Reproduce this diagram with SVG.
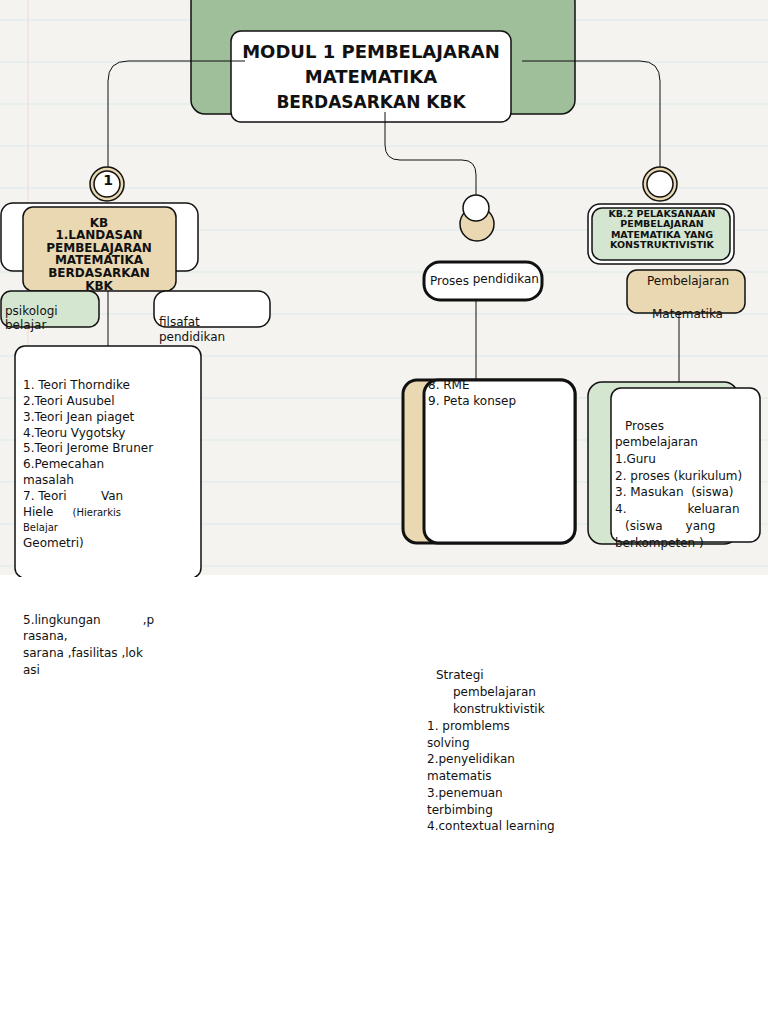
<svg xmlns="http://www.w3.org/2000/svg" width="768" height="1024" viewBox="0 0 768 1024">
<style>
.t{font-family:"DejaVu Sans",sans-serif;font-size:12px;fill:#111;white-space:pre}
.b{font-family:"DejaVu Sans",sans-serif;font-weight:bold;fill:#111;text-anchor:middle}
.l{fill:none;stroke:#111;stroke-width:1}
.k{stroke:#111;stroke-width:1.5}
.kk{stroke:#111;stroke-width:3}
</style>
<rect width="768" height="1024" fill="#fff"/>
<rect width="768" height="575" fill="#f4f3ef"/>
<g stroke="#dbe9ea" stroke-width="1">
<line x1="0" y1="20" x2="768" y2="20"/><line x1="0" y1="62" x2="768" y2="62"/><line x1="0" y1="104" x2="768" y2="104"/><line x1="0" y1="146" x2="768" y2="146"/><line x1="0" y1="188" x2="768" y2="188"/><line x1="0" y1="230" x2="768" y2="230"/><line x1="0" y1="272" x2="768" y2="272"/><line x1="0" y1="314" x2="768" y2="314"/><line x1="0" y1="356" x2="768" y2="356"/><line x1="0" y1="398" x2="768" y2="398"/><line x1="0" y1="440" x2="768" y2="440"/><line x1="0" y1="482" x2="768" y2="482"/><line x1="0" y1="524" x2="768" y2="524"/><line x1="0" y1="566" x2="768" y2="566"/>
</g>
<line x1="28" y1="0" x2="28" y2="575" stroke="#ecd9dc"/>
<g id="title">
<rect x="191" y="-12" width="384" height="126" rx="14" fill="#9fbf9a" class="k"/>
<rect x="231" y="31" width="280" height="91" rx="10" fill="#fff" class="k"/>
<text class="b" font-size="18" x="371" y="58">MODUL 1 PEMBELAJARAN</text>
<text class="b" font-size="18" x="371" y="83">MATEMATIKA</text>
<text class="b" font-size="17" x="371" y="108">BERDASARKAN KBK</text>
</g>
<g id="connectors" class="l">
<path d="M245 61 H128 Q108 61 108 81 V170"/>
<path d="M522 61 H640 Q660 61 660 81 V170"/>
<path d="M385 112 V145 Q385 160 400 160 H462 Q476 160 476 175 V197"/>
<line x1="108" y1="290" x2="108" y2="355"/>
<line x1="476" y1="288" x2="476" y2="380"/>
<line x1="679" y1="312" x2="679" y2="400"/>
</g>
<g id="c1"><circle cx="107" cy="184" r="17" fill="#e9d8b2" class="k"/><circle cx="107" cy="184" r="13" fill="#fff" class="k"/><text class="b" font-size="14" x="108" y="185">1</text></g>
<g id="c3"><circle cx="660" cy="184" r="17" fill="#e9d8b2" class="k"/><circle cx="660" cy="184" r="13" fill="#fff" class="k"/></g>
<g id="c2"><circle cx="477" cy="224" r="17" fill="#e9d8b2" class="k"/><circle cx="476" cy="208" r="13" fill="#fff" class="k"/></g>
<g id="kb1">
<rect x="1" y="203" width="197" height="68" rx="12" fill="#fff" class="k"/>
<rect x="23" y="207" width="153" height="84" rx="10" fill="#e9d8b2" class="k"/>
<text class="b" font-size="12"><tspan x="99" y="227">KB</tspan><tspan x="99" y="239">1.LANDASAN</tspan><tspan x="99" y="252">PEMBELAJARAN</tspan><tspan x="99" y="264">MATEMATIKA</tspan><tspan x="99" y="277">BERDASARKAN</tspan><tspan x="99" y="290">KBK</tspan></text>
</g>
<g id="psi"><rect x="1" y="291" width="98" height="36" rx="10" fill="#d4e6d0" class="k"/><text class="t" x="5" y="315">psikologi</text><text class="t" x="5" y="329">belajar</text></g>
<g id="fil"><rect x="154" y="291" width="116" height="36" rx="12" fill="#fff" class="k"/><text class="t" x="159" y="326">filsafat</text><text class="t" x="159" y="341">pendidikan</text></g>
<g id="teori">
<rect x="15" y="346" width="186" height="232" rx="10" fill="#fff" class="k"/>
<text class="t"><tspan x="23" y="389">1. Teori Thorndike</tspan><tspan x="23" y="405">2.Teori Ausubel</tspan><tspan x="23" y="421">3.Teori Jean piaget</tspan><tspan x="23" y="437">4.Teoru Vygotsky</tspan><tspan x="23" y="452">5.Teori Jerome Bruner</tspan><tspan x="23" y="468">6.Pemecahan</tspan><tspan x="23" y="484">masalah</tspan><tspan x="23" y="500">7. Teori         Van</tspan><tspan x="23" y="516">Hiele     </tspan><tspan font-size="10">(Hierarkis</tspan><tspan x="23" y="531" font-size="10">Belajar</tspan><tspan x="23" y="547">Geometri)</tspan></text>
<rect x="10" y="577" width="200" height="10" fill="#fff"/>
</g>
<g id="proses"><rect x="424" y="262" width="118" height="38" rx="16" fill="#fff" class="kk"/><text class="t" x="430" y="285">Proses <tspan y="283">pendidikan</tspan></text></g>
<g id="rme">
<rect x="403" y="380" width="172" height="163" rx="14" fill="#e9d8b2" class="kk"/>
<rect x="424" y="380" width="151" height="163" rx="14" fill="#fff" class="kk"/>
<text class="t"><tspan x="428" y="389">8. RME</tspan><tspan x="428" y="405">9. Peta konsep</tspan></text>
</g>
<g id="kb2">
<rect x="588" y="204" width="146" height="60" rx="12" fill="#fff" class="k"/>
<rect x="592" y="208" width="138" height="52" rx="10" fill="#d4e6d0" class="k"/>
<text class="b" font-size="9.5"><tspan x="662" y="217">KB.2 PELAKSANAAN</tspan><tspan x="662" y="227">PEMBELAJARAN</tspan><tspan x="662" y="238">MATEMATIKA YANG</tspan><tspan x="662" y="248">KONSTRUKTIVISTIK</tspan></text>
</g>
<g id="pm"><rect x="627" y="270" width="118" height="43" rx="10" fill="#e9d8b2" class="k"/><text class="t" x="647" y="285">Pembelajaran</text><text class="t" x="652" y="318">Matematika</text></g>
<g id="pp">
<rect x="588" y="382" width="150" height="162" rx="14" fill="#d4e6d0" class="k"/>
<rect x="611" y="388" width="149" height="154" rx="10" fill="#fff" class="k"/>
<text class="t"><tspan x="625" y="430">Proses</tspan><tspan x="615" y="446">pembelajaran</tspan><tspan x="615" y="463">1.Guru</tspan><tspan x="615" y="480">2. proses (kurikulum)</tspan><tspan x="615" y="496">3. Masukan  (siswa)</tspan><tspan x="615" y="513">4.                keluaran</tspan><tspan x="625" y="530">(siswa      yang</tspan><tspan x="615" y="547">berkompeten )</tspan></text>
</g>
<text class="t"><tspan x="23" y="624">5.lingkungan           ,p</tspan><tspan x="23" y="640">rasana,</tspan><tspan x="23" y="657">sarana ,fasilitas ,lok</tspan><tspan x="23" y="674">asi</tspan></text>
<text class="t"><tspan x="436" y="679">Strategi</tspan><tspan x="453" y="696">pembelajaran</tspan><tspan x="453" y="713">konstruktivistik</tspan><tspan x="427" y="730">1. promblems</tspan><tspan x="427" y="747">solving</tspan><tspan x="427" y="763">2.penyelidikan</tspan><tspan x="427" y="780">matematis</tspan><tspan x="427" y="797">3.penemuan</tspan><tspan x="427" y="814">terbimbing</tspan><tspan x="427" y="830">4.contextual learning</tspan></text>
</svg>
